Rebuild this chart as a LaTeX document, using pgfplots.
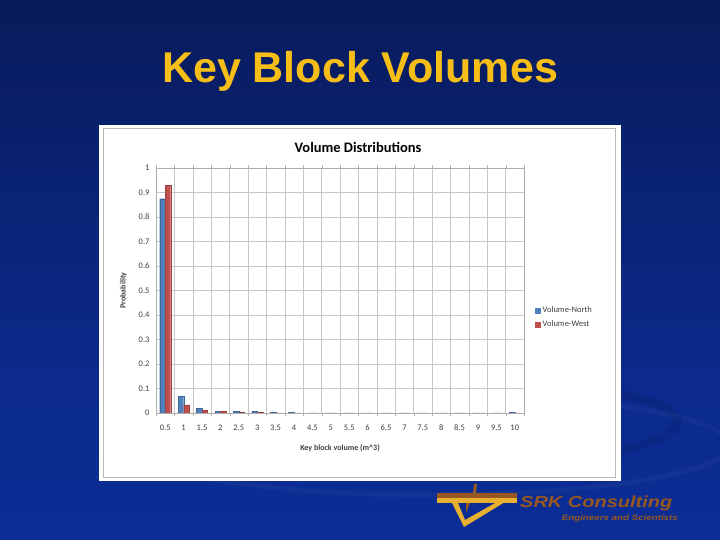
\documentclass[border=0pt]{standalone}
\usepackage{pgfplots}
\pgfplotsset{compat=1.18}
\usepackage{fontspec}
\setmainfont{Carlito}
\newfontfamily\arialf{Liberation Sans}
\newfontfamily\srkf{Liberation Sans}[FakeStretch=1.25]
\definecolor{bgtop}{RGB}{2,8,30}
\definecolor{bgup}{RGB}{8,28,95}
\definecolor{bgmid}{RGB}{12,42,140}
\definecolor{bgbot}{RGB}{10,50,165}
\definecolor{ttl}{RGB}{246,190,22}
\definecolor{xlnorth}{RGB}{79,129,189}
\definecolor{xlwest}{RGB}{192,80,77}
\definecolor{srkbrown}{RGB}{150,88,32}
\definecolor{srkyel}{RGB}{232,176,48}
\definecolor{txt}{RGB}{64,64,64}
\pgfdeclareverticalshading{slidebg}{100bp}{color(0bp)=(bgbot); color(40bp)=(bgmid); color(72bp)=(bgup); color(100bp)=(bgtop)}
\pgfplotstableread{
x north west
0 0.875 0.930
1 0.069 0.033
2 0.020 0.012
3 0.008 0.006
4 0.006 0.004
5 0.006 0.003
6 0.002 0.001
7 0.002 0.001
8 0.001 0.000
9 0.001 0.000
10 0.001 0.000
11 0.001 0.000
12 0.001 0.000
13 0.001 0.000
14 0.001 0.000
15 0.001 0.000
16 0.001 0.000
17 0.001 0.000
18 0.001 0.000
19 0.002 0.001
}\voldata
\begin{document}
\begin{tikzpicture}[x=1pt,y=1pt]
\useasboundingbox (0,0) rectangle (720,540);
% slide background
\shade[shading=slidebg] (0,0) rectangle (720,540);
\begin{scope}
\clip (0,0) rectangle (720,540);
\draw[line width=8pt, color=black, opacity=0.08] (450,118) ellipse [x radius=228, y radius=42];
\draw[line width=5pt, color=white, opacity=0.03] (430,95) ellipse [x radius=300, y radius=50];
\end{scope}
% title
\node[font=\arialf\bfseries\fontsize{43}{50}\selectfont, text=ttl] at (360,469) {Key Block Volumes};
% chart frame
\fill[white] (99,59) rectangle (621,415);
\draw[gray!55, line width=0.6pt] (103,63) rectangle (615,412);
\node[font=\bfseries\fontsize{14.5}{17}\selectfont, text=black] at (358,393) {Volume Distributions};
\begin{axis}[
  at={(156pt,127pt)}, anchor=south west,
  scale only axis, width=368pt, height=245pt,
  ybar=0pt, bar width=5.5pt,
  xmin=-0.5, xmax=19.5, ymin=0, ymax=1,
  xtick={0,...,19},
  xticklabels={0.5,1,1.5,2,2.5,3,3.5,4,4.5,5,5.5,6,6.5,7,7.5,8,8.5,9,9.5,10},
  minor xtick={-0.5,0.5,...,19.5},
  ytick={0,0.1,0.2,0.3,0.4,0.5,0.6,0.7,0.8,0.9,1},
  yticklabels={0,0.1,0.2,0.3,0.4,0.5,0.6,0.7,0.8,0.9,1},
  major tick length=0pt, minor tick length=3pt, tick align=outside,
  xminorgrids=true, ymajorgrids=true,
  grid style={gray!45, line width=0.5pt},
  minor grid style={gray!45, line width=0.5pt},
  minor tick style={gray!60},
  axis line style={gray!65},
  tick label style={font=\fontsize{8.5}{10}\selectfont, text=txt},
  /pgf/number format/assume math mode=true,
  xticklabel style={anchor=base, text height=6pt, text depth=0pt, yshift=-18pt},
  yticklabel style={xshift=-3pt},
  xlabel={Key block volume (m\textasciicircum 3)},
  ylabel={Probability},
  label style={font=\bfseries\fontsize{8}{10}\selectfont, text=txt},
  xlabel style={yshift=-7pt},
  ylabel style={yshift=5pt},
  legend style={at={(1,0.39)}, anchor=west, xshift=8pt, draw=none, fill=none,
    font=\fontsize{8.5}{10}\selectfont, text=txt, row sep=3pt},
  legend cell align=left,
]
\addplot[fill=xlnorth, draw=xlnorth!80!black, line width=0.2pt, legend image code/.code={\fill[xlnorth] (0pt,-2.6pt) rectangle (5.2pt,2.6pt);}] table[x=x, y=north] {\voldata};
\addlegendentry{Volume-North}
\addplot[fill=xlwest, draw=xlwest!80!black, line width=0.2pt, legend image code/.code={\fill[xlwest] (0pt,-2.6pt) rectangle (5.2pt,2.6pt);}] table[x=x, y=west] {\voldata};
\addlegendentry{Volume-West}
\end{axis}
% SRK logo
\fill[srkbrown] (437,42) rectangle (517,47);
\fill[srkyel] (437,37) rectangle (517,42);
\fill[srkyel] (452,37) -- (458,37) -- (465,20) -- (497,38) -- (505,38) -- (464,13) -- cycle;
\fill[srkbrown] (473,47) -- (476,47) -- (477,56) -- (474,56) -- cycle;
\fill[srkbrown] (466,37) -- (470,37) -- (466,27) -- cycle;
\node[anchor=base west, font=\srkf\bfseries\itshape\fontsize{16}{19}\selectfont, text=srkbrown, inner sep=0pt] at (520,32) {SRK Consulting};
\node[anchor=east, font=\srkf\bfseries\itshape\fontsize{7.8}{9}\selectfont, text=srkbrown, inner sep=0pt] at (678,22) {Engineers and Scientists};
\end{tikzpicture}
\end{document}
